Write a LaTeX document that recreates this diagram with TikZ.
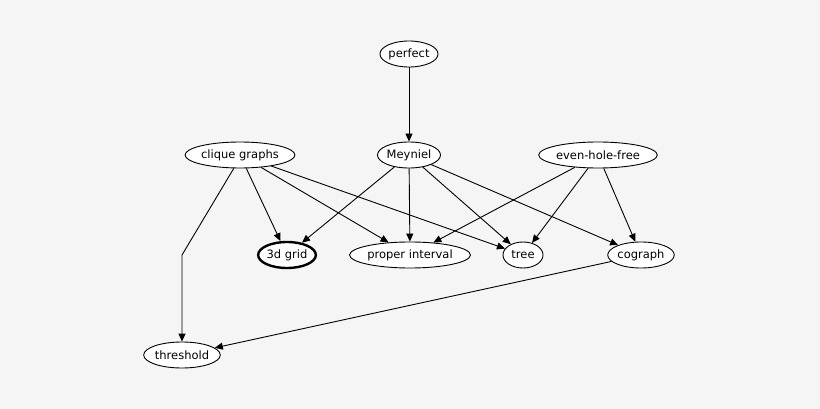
\documentclass[tikz,border=0pt]{standalone}
\usepackage{fontspec}
\setmainfont{DejaVu Sans}
\usetikzlibrary{shapes.geometric,arrows.meta}
\definecolor{bg}{HTML}{F5F5F5}
\tikzset{
  cls/.style={ellipse, draw, fill=white, inner sep=0pt, minimum height=26pt,
    font=\fontsize{11.5}{13}\selectfont},
  dep/.style={-{Triangle[length=8pt,width=7pt]}},
}
\begin{document}
\begin{tikzpicture}[x=1pt,y=-1pt,line width=0.9pt]
\fill[bg] (0,0) rectangle (820,409);
\useasboundingbox (0,0) rectangle (820,409);
\node[cls, minimum width=58pt] (perfect) at (409,54) {perfect};
\node[cls, minimum width=98pt] (clique) at (240,155) {clique graphs};
\node[cls, minimum width=58pt] (meyniel) at (409,155) {Meyniel};
\node[cls, minimum width=106pt] (ehf) at (598,155) {even-hole-free};
\node[cls, minimum width=56pt, line width=2.4pt] (grid) at (287,255) {3d grid};
\node[cls, minimum width=106pt] (pint) at (410,255) {proper interval};
\node[cls, minimum width=40pt] (tree) at (523,255) {tree};
\node[cls, minimum width=64pt] (cograph) at (641,255) {cograph};
\node[cls, minimum width=72pt] (threshold) at (182,355) {threshold};
\coordinate (bend) at (182,255);

\draw[dep] (perfect) -- (meyniel);
\draw[dep] (clique) -- (grid);
\draw[dep] (clique) -- (pint);
\draw[dep] (clique) -- (tree);
\draw[dep] (clique.-115) -- (bend) -- (threshold);
\draw[dep] (meyniel) -- (grid);
\draw[dep] (meyniel) -- (pint);
\draw[dep] (meyniel) -- (tree);
\draw[dep] (meyniel) -- (cograph);
\draw[dep] (ehf) -- (pint);
\draw[dep] (ehf) -- (tree);
\draw[dep] (ehf) -- (cograph);
\draw[dep] (cograph) -- (threshold);
\end{tikzpicture}
\end{document}
